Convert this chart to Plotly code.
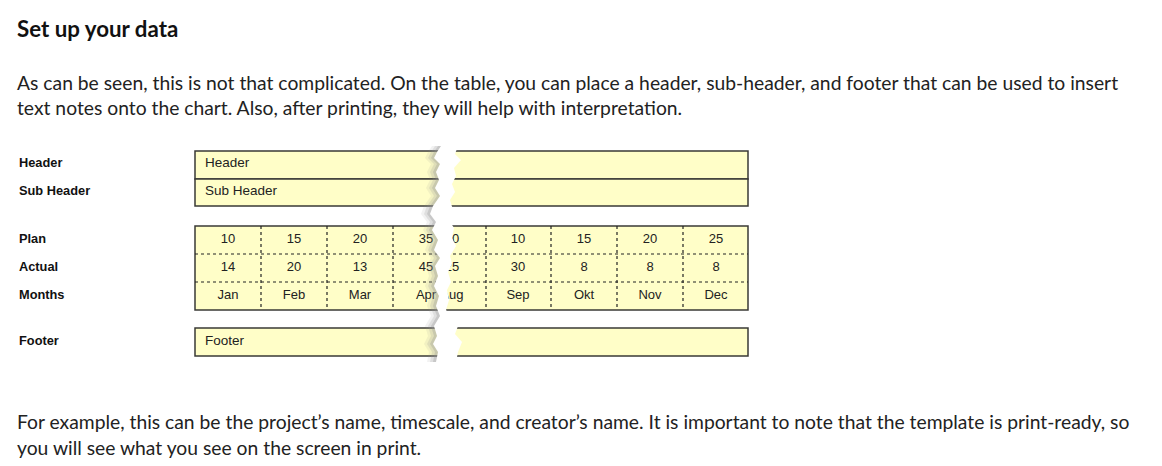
import plotly.graph_objects as go

# text of the page
title = "Set up your data"
para_top = [
    "As can be seen, this is not that complicated. On the table, you can place a header, sub-header, and footer that can be used to insert",
    "text notes onto the chart. Also, after printing, they will help with interpretation.",
]
para_bottom = [
    "For example, this can be the project\u2019s name, timescale, and creator\u2019s name. It is important to note that the template is print-ready, so",
    "you will see what you see on the screen in print.",
]

# table data
row_labels = ["Header", "Sub Header", "Plan", "Actual", "Months", "Footer"]
header_text = "Header"
subheader_text = "Sub Header"
footer_text = "Footer"
months = ["Jan", "Feb", "Mar", "Apr", "Aug", "Sep", "Okt", "Nov", "Dec"]
plan = [10, 15, 20, 35, 30, 10, 15, 20, 25]
actual = [14, 20, 13, 45, 25, 30, 8, 8, 8]

# layout (pixel page coordinates)
W, H = 1162, 466
body_font = "Lato, Open Sans, sans-serif"
cell_font = "Liberation Sans, Arial, sans-serif"
fill = "#FFFEC8"
edge = "#3a3a36"
box_x0, box_x1 = 195, 748
col_edges = [195, 261, 327, 393, 486, 551, 617, 683, 748]
cell_cx = [228, 294, 360, 426, 452, 518, 584, 650, 716]
label_y = [164, 192, 240, 268, 296, 342]
row_cy = [240, 268, 296]

fig = go.Figure()

shapes = []
ann = []

def box(y0, y1):
    shapes.append(dict(type="rect", x0=box_x0, x1=box_x1, y0=y0, y1=y1,
                       fillcolor=fill, line=dict(color=edge, width=1.5), layer="below"))

# header / sub header / data / footer boxes
box(151, 179)
box(179, 206)
box(226, 310)
box(328, 356)

# dotted inner grid of the data box
for xe in col_edges[1:-1]:
    shapes.append(dict(type="line", x0=xe, x1=xe, y0=226, y1=310,
                       line=dict(color="#222", width=1.2, dash="dot")))
for ye in [254, 282]:
    shapes.append(dict(type="line", x0=box_x0, x1=box_x1, y0=ye, y1=ye,
                       line=dict(color="#222", width=1.2, dash="dot")))

# cell values
for rows, yc in zip([plan, actual, months], row_cy):
    fig.add_trace(go.Scatter(
        x=cell_cx, y=[yc] * len(cell_cx), mode="text",
        text=[str(v) for v in rows], textposition="middle center",
        textfont=dict(family=cell_font, size=13, color="#222"),
        hoverinfo="skip", showlegend=False))

# row labels
fig.add_trace(go.Scatter(
    x=[19] * len(row_labels), y=label_y, mode="text",
    text=["<b>%s</b>" % s for s in row_labels], textposition="middle right",
    textfont=dict(family=cell_font, size=12.8, color="#111"),
    hoverinfo="skip", showlegend=False))

# text inside the header/footer boxes
fig.add_trace(go.Scatter(
    x=[205, 205, 205], y=[164, 192, 342], mode="text",
    text=[header_text, subheader_text, footer_text], textposition="middle right",
    textfont=dict(family=cell_font, size=13.5, color="#222"),
    hoverinfo="skip", showlegend=False))

# torn paper gap
left = [(441, 146), (437, 152), (434, 158), (440, 164), (436, 172), (439, 180), (435, 188),
        (440, 196), (433, 206), (430, 214), (436, 222), (432, 230), (438, 240), (434, 250),
        (440, 258), (435, 266), (438, 276), (434, 286), (439, 296), (436, 306), (440, 316),
        (434, 326), (437, 336), (433, 344), (438, 352), (436, 362)]
right = [(458, 146), (455, 154), (461, 160), (454, 168), (456, 176), (452, 184), (455, 192),
         (450, 200), (453, 210), (449, 220), (454, 228), (452, 238), (456, 246), (450, 256),
         (452, 264), (448, 272), (451, 282), (447, 290), (449, 300), (446, 310), (452, 318),
         (458, 326), (455, 334), (462, 342), (458, 352), (456, 362)]

def path(pts):
    return "M " + " L ".join("%d,%d" % p for p in pts) + " Z"

# soft grey shadow along the torn left edge
for off, alpha in [(9, 0.12), (6, 0.2), (3, 0.3)]:
    shade = [(x - off, y) for x, y in left] + [(x + 6, y) for x, y in reversed(left)]
    shapes.append(dict(type="path", path=path(shade), fillcolor="rgba(150,150,150,%s)" % alpha,
                       line=dict(width=0), layer="above"))
shapes.append(dict(type="path", path=path(left + list(reversed(right))), fillcolor="white",
                   line=dict(width=0), layer="above"))

# page text
ann.append(dict(x=15, y=28, text="<b>%s</b>" % title, xanchor="left", yanchor="middle",
                showarrow=False, font=dict(family=body_font, size=22.3, color="#111")))
for i, line in enumerate(para_top):
    ann.append(dict(x=15, y=82 + 25 * i, text=line, xanchor="left", yanchor="middle",
                    showarrow=False, font=dict(family=body_font, size=19.3, color="#222")))
for i, line in enumerate(para_bottom):
    ann.append(dict(x=15, y=421 + 26 * i, text=line, xanchor="left", yanchor="middle",
                    showarrow=False, font=dict(family=body_font, size=19.3, color="#222")))

fig.update_layout(
    width=W, height=H,
    margin=dict(l=0, r=0, t=0, b=0),
    paper_bgcolor="white", plot_bgcolor="white",
    xaxis=dict(range=[0, W], visible=False, fixedrange=True),
    yaxis=dict(range=[H, 0], visible=False, fixedrange=True),
    shapes=shapes, annotations=ann,
)

fig.write_html("out.html", config={"displayModeBar": False},
               post_script="document.body.style.margin='0px';")
